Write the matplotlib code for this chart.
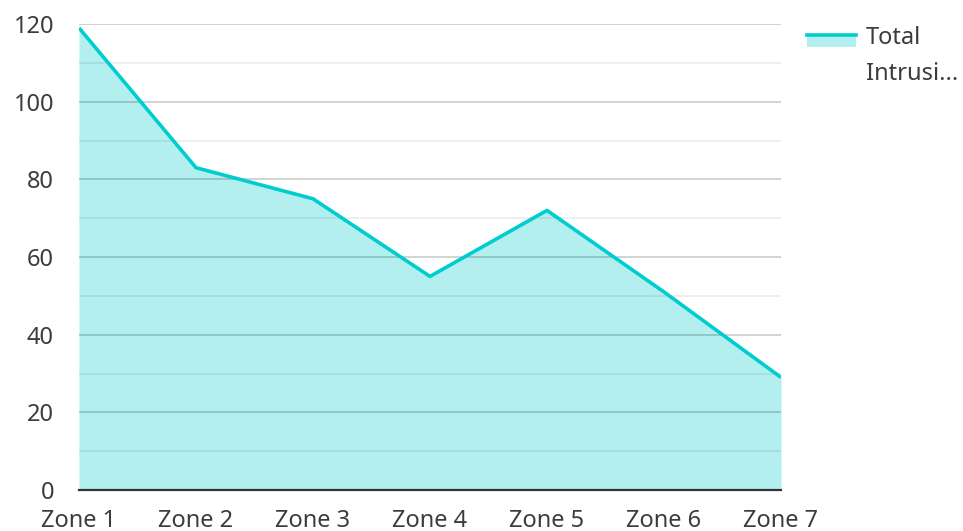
import matplotlib
matplotlib.use("Agg")
import matplotlib.pyplot as plt
from matplotlib.lines import Line2D
from matplotlib.patches import Rectangle

plt.rcParams['font.family'] = ['Noto Sans', 'DejaVu Sans']

zones = ["Zone 1", "Zone 2", "Zone 3", "Zone 4", "Zone 5", "Zone 6", "Zone 7"]
intrusions = [119, 83, 75, 55, 72, 51, 29]
yticks = [0, 20, 40, 60, 80, 100, 120]

line_col = "#00cdd0"
fill_col = "#b2efee"
text_col = "#3c3c3c"
fs = 17

fig = plt.figure(figsize=(9.63, 5.31), dpi=100)
ax = fig.add_axes([0.082, 0.0772, 0.729, 0.8776])

x = list(range(len(zones)))
ax.fill_between(x, intrusions, 0, color=fill_col, lw=0, zorder=1)
ax.plot(x, intrusions, color=line_col, lw=2.6, zorder=3, solid_capstyle="butt")

ax.set_xlim(0, len(zones) - 1)
ax.set_ylim(0, 120)
ax.set_xticks(x)
ax.set_xticklabels(zones)
ax.set_yticks(yticks)
ax.set_yticks(range(10, 120, 20), minor=True)

ax.set_axisbelow(False)
ax.grid(axis="y", which="major", color="black", alpha=0.2, lw=1.2, zorder=2)
ax.grid(axis="y", which="minor", color="black", alpha=0.08, lw=1.2, zorder=2)

for s in ["top", "right", "left"]:
    ax.spines[s].set_visible(False)
ax.spines["bottom"].set_color("#333333")
ax.spines["bottom"].set_linewidth(1.6)
ax.spines["bottom"].set_zorder(4)

ax.tick_params(axis="both", which="both", length=0, labelsize=fs, colors=text_col)
ax.tick_params(axis="y", pad=18)
ax.tick_params(axis="x", pad=14)
for lab in ax.get_yticklabels():
    lab.set_horizontalalignment("right")

# legend drawn by hand: line with fill below
fig.patches.append(Rectangle((807 / 963, 1 - 47 / 531), 49 / 963, 12 / 531,
                             transform=fig.transFigure, color=fill_col, lw=0))
fig.lines.append(Line2D([807 / 963, 856 / 963], [1 - 35 / 531] * 2,
                        transform=fig.transFigure, color=line_col, lw=2.6))
fig.text(866 / 963, 1 - 38 / 531, "Total", fontsize=fs, color=text_col, va="center")
fig.text(866 / 963, 1 - 74 / 531, "Intrusi...", fontsize=fs, color=text_col, va="center")

fig.savefig("out.png", dpi=100)
